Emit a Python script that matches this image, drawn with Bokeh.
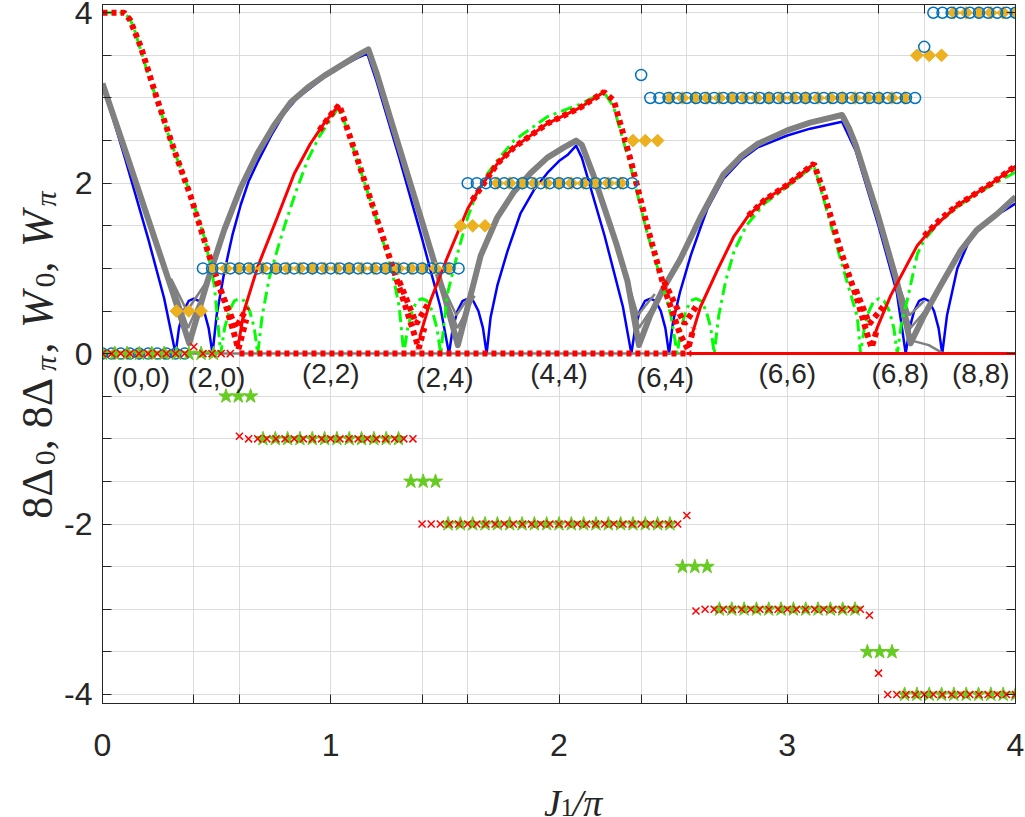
import math
from bokeh.plotting import figure
from bokeh.layouts import row, column
from bokeh.models import Range1d, FixedTicker, LinearAxis, ColumnDataSource
from bokeh.core.properties import value
from bokeh.embed import file_html
from bokeh.resources import INLINE

# ---------------- data ----------------
x_major = [0, 1, 2, 3, 4]
x_minor = [0.4, 0.6, 1.4, 1.6, 2.36, 2.56, 3.4, 3.6]
y_major = [-4, -2, 0, 2, 4]
y_minor = [-3.5, -3, -2.5, -1.5, -1, -0.5, 0.5, 1, 1.5, 2.5, 3, 3.5]
y_tick_text = {-4: "-4", -2: "-2", 0: "0", 2: "2", 4: "4"}

blue_j = [0.0, 0.1, 0.2, 0.27, 0.32,
          0.335, 0.355, 0.378, 0.4, 0.422, 0.445, 0.465, 0.482,
          0.5, 0.533, 0.57, 0.606, 0.64, 0.68, 0.737, 0.796, 0.854, 0.97, 1.04, 1.117, 1.16,
          1.2, 1.3, 1.4, 1.48, 1.518,
          1.535, 1.555, 1.578, 1.601, 1.624, 1.647, 1.667, 1.683,
          1.7, 1.73, 1.774, 1.832, 1.89, 1.949, 2.0, 2.037, 2.075,
          2.1, 2.2, 2.28, 2.317,
          2.334, 2.354, 2.377, 2.4, 2.423, 2.446, 2.466, 2.482,
          2.5, 2.53, 2.577, 2.62, 2.65, 2.72, 2.8, 2.87, 3.0, 3.1, 3.24,
          3.3, 3.4, 3.48, 3.519,
          3.536, 3.556, 3.578, 3.599, 3.62, 3.643, 3.663, 3.679,
          3.7, 3.745, 3.79, 3.818, 3.891, 4.0]
blue_w = [3.17, 2.28, 1.35, 0.65, 0.0,
          0.3, 0.5, 0.62, 0.645, 0.62, 0.5, 0.3, 0.0,
          0.45, 0.95, 1.4, 1.75, 2.02, 2.25, 2.55, 2.82, 3.0, 3.24, 3.36, 3.47, 3.52,
          3.2, 2.3, 1.35, 0.55, 0.0,
          0.3, 0.5, 0.62, 0.645, 0.62, 0.5, 0.3, 0.0,
          0.42, 0.8, 1.2, 1.65, 1.92, 2.12, 2.26, 2.33, 2.44,
          2.3, 1.38, 0.55, 0.0,
          0.3, 0.5, 0.62, 0.645, 0.62, 0.5, 0.3, 0.0,
          0.38, 0.72, 1.15, 1.48, 1.7, 2.05, 2.28, 2.42, 2.56, 2.64, 2.72,
          2.38, 1.5, 0.72, 0.0,
          0.3, 0.5, 0.62, 0.645, 0.62, 0.5, 0.3, 0.0,
          0.45, 1.0, 1.28, 1.4, 1.58, 1.76]

gray_j = [0.0, 0.1, 0.2, 0.3, 0.38,
          0.46, 0.533, 0.606, 0.679, 0.752, 0.825, 0.898, 0.971, 1.044, 1.117, 1.165,
          1.2, 1.3, 1.4, 1.5, 1.557,
          1.6, 1.657, 1.73, 1.803, 1.876, 1.949, 2.022, 2.075,
          2.1, 2.15, 2.2, 2.25, 2.3, 2.35,
          2.4, 2.46, 2.53, 2.62, 2.72, 2.8, 2.87, 3.0, 3.1, 3.24,
          3.27, 3.3, 3.4, 3.48, 3.54,
          3.6, 3.672, 3.76, 3.83, 3.92, 4.0]
gray_w = [3.17, 2.38, 1.58, 0.78, 0.12,
          0.85, 1.45, 1.95, 2.35, 2.68, 2.95, 3.12, 3.26, 3.38, 3.5, 3.57,
          3.3, 2.42, 1.55, 0.66, 0.1,
          0.55, 1.15, 1.6, 1.9, 2.12, 2.3, 2.42, 2.5,
          2.45, 2.1, 1.7, 1.3, 0.85, 0.1,
          0.45, 0.78, 1.1, 1.6, 2.1, 2.32, 2.46, 2.62, 2.71, 2.8,
          2.65, 2.45, 1.6, 0.85, 0.12,
          0.45, 0.8, 1.21, 1.45, 1.64, 1.84]
gray_fan_j = [[0.3, 0.37, 0.45], [0.31, 0.375, 0.45], [1.49, 1.55, 1.62], [1.49, 1.555, 1.63],
              [2.29, 2.345, 2.42], [2.3, 2.35, 2.43], [3.47, 3.535, 3.6], [3.48, 3.54, 3.62],
              [3.55, 3.62, 3.685], [0.36, 4.0]]
gray_fan_w = [[0.88, 0.5, 0.82], [0.8, 0.3, 0.76], [0.8, 0.45, 0.72], [0.76, 0.3, 0.68],
              [0.95, 0.45, 0.7], [0.88, 0.3, 0.62], [0.95, 0.45, 0.62], [0.85, 0.3, 0.55],
              [0.15, 0.1, 0.0], [0.0, 0.0]]

green_j = [0.0, 0.095, 0.12, 0.14, 0.2, 0.3, 0.387, 0.45, 0.49, 0.518,
           0.535, 0.555, 0.578, 0.6, 0.622, 0.645, 0.665, 0.68,
           0.7, 0.73, 0.766, 0.8, 0.85, 0.9, 0.95, 1.0, 1.037,
           1.1, 1.2, 1.27, 1.3, 1.32,
           1.337, 1.357, 1.378, 1.4, 1.422, 1.445, 1.465, 1.482,
           1.511, 1.555, 1.6, 1.657, 1.73, 1.803, 1.949, 2.095, 2.197,
           2.24, 2.314, 2.387, 2.45, 2.49, 2.518,
           2.535, 2.555, 2.578, 2.6, 2.622, 2.645, 2.665, 2.68,
           2.7, 2.73, 2.767, 2.82, 2.9, 3.0, 3.117,
           3.161, 3.234, 3.307, 3.321,
           3.338, 3.358, 3.38, 3.402, 3.424, 3.447, 3.467, 3.482,
           3.5, 3.526, 3.57, 3.599, 3.672, 3.745, 3.818, 3.891, 4.0]
green_w = [4.0, 4.0, 3.93, 3.8, 3.28, 2.48, 1.86, 1.33, 0.8, 0.0,
           0.3, 0.5, 0.62, 0.645, 0.62, 0.5, 0.3, 0.0,
           0.45, 0.88, 1.22, 1.52, 1.92, 2.28, 2.55, 2.75, 2.9,
           2.4, 1.58, 0.95, 0.55, 0.0,
           0.3, 0.5, 0.62, 0.645, 0.62, 0.5, 0.3, 0.0,
           0.7, 1.17, 1.6, 2.0, 2.27, 2.5, 2.78, 2.93, 3.07,
           2.89, 2.19, 1.41, 0.85, 0.45, 0.0,
           0.3, 0.5, 0.62, 0.645, 0.62, 0.5, 0.3, 0.0,
           0.45, 0.85, 1.2, 1.5, 1.76, 1.96, 2.21,
           1.8, 1.1, 0.43, 0.0,
           0.3, 0.5, 0.62, 0.645, 0.62, 0.5, 0.3, 0.0,
           0.35, 0.63, 1.17, 1.33, 1.56, 1.72, 1.86, 1.97, 2.13]

red_dot_j = [[0.0, 0.095, 0.12, 0.168, 0.241, 0.314, 0.387, 0.46, 0.533, 0.577, 0.595, 0.63],
             [0.5, 0.585, 0.635],
             [0.95, 1.0, 1.037, 1.1, 1.2, 1.3, 1.36, 1.385, 1.41],
             [1.3, 1.375, 1.43],
             [1.62, 1.73, 1.803, 1.949, 2.095, 2.197, 2.24, 2.314, 2.387, 2.46, 2.53, 2.565, 2.59],
             [2.46, 2.55, 2.6],
             [2.83, 2.9, 3.0, 3.117, 3.161, 3.234, 3.307, 3.35, 3.37, 3.395],
             [3.3, 3.36, 3.42],
             [3.6, 3.672, 3.745, 3.891, 4.0],
             [0.6, 2.58]]
red_dot_w = [[4.0, 4.0, 3.92, 3.6, 2.97, 2.39, 1.84, 1.21, 0.63, 0.23, 0.05, 0.4],
             [0.85, 0.3, 0.55],
             [2.62, 2.8, 2.92, 2.42, 1.6, 0.78, 0.28, 0.06, 0.3],
             [0.85, 0.35, 0.6],
             [1.8, 2.23, 2.42, 2.7, 2.89, 3.07, 2.97, 2.27, 1.49, 0.78, 0.23, 0.05, 0.3],
             [0.85, 0.35, 0.55],
             [1.62, 1.8, 1.98, 2.23, 1.88, 1.21, 0.63, 0.23, 0.07, 0.3],
             [0.75, 0.35, 0.55],
             [1.38, 1.58, 1.74, 1.99, 2.2],
             [0.0, 0.0]]

red_sol_j = [[0.595, 0.62, 0.68, 0.766, 0.84, 0.91, 0.97, 1.037],
             [1.39, 1.438, 1.511, 1.6, 1.657, 1.73, 1.803, 1.949, 2.095, 2.197],
             [2.58, 2.62, 2.694, 2.767, 2.83, 2.9, 3.0, 3.117],
             [3.38, 3.395, 3.453, 3.526, 3.57, 3.628, 3.745, 3.891, 4.0],
             [2.56, 4.0]]
red_sol_w = [[0.1, 0.5, 1.02, 1.6, 2.11, 2.46, 2.7, 2.92],
             [0.2, 0.63, 1.13, 1.7, 1.96, 2.23, 2.42, 2.7, 2.89, 3.07],
             [0.2, 0.55, 0.98, 1.38, 1.62, 1.8, 1.98, 2.23],
             [0.2, 0.31, 0.68, 1.05, 1.27, 1.45, 1.74, 1.99, 2.2],
             [0.0, 0.0]]

# sampling grid of the circle / cross markers
grid_a = [0.00, 0.04, 0.08, 0.12, 0.16, 0.20, 0.24, 0.28, 0.32, 0.36,
          0.40, 0.44, 0.48, 0.52, 0.56, 0.60, 0.64, 0.68, 0.72, 0.76,
          0.80, 0.84, 0.88, 0.92, 0.96, 1.00, 1.04, 1.08, 1.12, 1.16,
          1.20, 1.24, 1.28, 1.32, 1.36, 1.40, 1.44, 1.48, 1.52, 1.56,
          1.60, 1.64, 1.68, 1.72, 1.76, 1.80, 1.84, 1.88, 1.92, 1.96,
          2.00, 2.04, 2.08, 2.12, 2.16, 2.20, 2.24, 2.28, 2.32, 2.36,
          2.40, 2.44, 2.48, 2.52, 2.56, 2.60, 2.64, 2.68, 2.72, 2.76,
          2.80, 2.84, 2.88, 2.92, 2.96, 3.00, 3.04, 3.08, 3.12, 3.16,
          3.20, 3.24, 3.28, 3.32, 3.36, 3.40, 3.44, 3.48, 3.52, 3.56,
          3.60, 3.64, 3.68, 3.72, 3.76, 3.80, 3.84, 3.88, 3.92, 3.96,
          4.00]
NaN = float("nan")
circ_w = [0, 0, 0, 0, 0, 0, 0, 0, 0, 0,
          NaN, 1, 1, 1, 1, 1, 1, 1, 1, 1,
          1, 1, 1, 1, 1, 1, 1, 1, 1, 1,
          1, 1, 1, 1, 1, 1, 1, 1, 1, 1,
          2, 2, 2, 2, 2, 2, 2, 2, 2, 2,
          2, 2, 2, 2, 2, 2, 2, 2, 2, 3.27,
          3, 3, 3, 3, 3, 3, 3, 3, 3, 3,
          3, 3, 3, 3, 3, 3, 3, 3, 3, 3,
          3, 3, 3, 3, 3, 3, 3, 3, 3, 3,
          3.6, 4, 4, 4, 4, 4, 4, 4, 4, 4,
          4]
cross_w = [0, 0, 0, 0, 0, 0, 0, 0, 0, 0,
           0.08, 0, 0, 0, 0, -0.97, -1, -1, -1, -1,
           -1, -1, -1, -1, -1, -1, -1, -1, -1, -1,
           -1, -1, -1, -1, -1, -2, -2, -2, -2, -2,
           -2, -2, -2, -2, -2, -2, -2, -2, -2, -2,
           -2, -2, -2, -2, -2, -2, -2, -2, -2, -2,
           -2, -2, -2, -2, -1.9, -3.02, -3, -3, -3, -3,
           -3, -3, -3, -3, -3, -3, -3, -3, -3, -3,
           -3, -3, -3, -3, -3.07, -3.75, -4, -4, -4, -4,
           -4, -4, -4, -4, -4, -4, -4, -4, -4, -4,
           -4]

# sampling grid of the diamond / star markers
grid_b = [0.000, 0.054, 0.108, 0.162, 0.216, 0.270, 0.324, 0.378, 0.432, 0.486,
          0.541, 0.595, 0.649, 0.703, 0.757, 0.811, 0.865, 0.919, 0.973, 1.027,
          1.081, 1.135, 1.189, 1.243, 1.297, 1.351, 1.405, 1.459, 1.514, 1.568,
          1.622, 1.676, 1.730, 1.784, 1.838, 1.892, 1.946, 2.000, 2.054, 2.108,
          2.162, 2.216, 2.270, 2.324, 2.378, 2.432, 2.486, 2.541, 2.595, 2.649,
          2.703, 2.757, 2.811, 2.865, 2.919, 2.973, 3.027, 3.081, 3.135, 3.189,
          3.243, 3.297, 3.351, 3.405, 3.459, 3.514, 3.568, 3.622, 3.676, 3.730,
          3.784, 3.838, 3.892, 3.946, 4.000]
diam_w = [0, 0, 0, 0, 0, 0, 0.5, 0.5, 0.5, 1,
          1, 1, 1, 1, 1, 1, 1, 1, 1, 1,
          1, 1, 1, 1, 1, 1, 1, 1, 1, 1.5,
          1.5, 1.5, 2, 2, 2, 2, 2, 2, 2, 2,
          2, 2, 2, 2.5, 2.5, 2.5, 3, 3, 3, 3,
          3, 3, 3, 3, 3, 3, 3, 3, 3, 3,
          3, 3, 3, 3, 3, 3, 3.5, 3.5, 3.5, 4,
          4, 4, 4, 4, 4]
star_w = [0, 0, 0, 0, 0, 0, 0, 0, 0, 0,
          -0.5, -0.5, -0.5, -1, -1, -1, -1, -1, -1, -1,
          -1, -1, -1, -1, -1, -1.5, -1.5, -1.5, -2, -2,
          -2, -2, -2, -2, -2, -2, -2, -2, -2, -2,
          -2, -2, -2, -2, -2, -2, -2, -2.5, -2.5, -2.5,
          -3, -3, -3, -3, -3, -3, -3, -3, -3, -3,
          -3, -3, -3.5, -3.5, -3.5, -4, -4, -4, -4, -4,
          -4, -4, -4, -4, -4]

region_text = ["(0,0)", "(2,0)", "(2,2)", "(2,4)", "(4,4)", "(6,4)", "(6,6)", "(6,8)", "(8,8)"]
region_j = [0.17, 0.5, 1.0, 1.5, 2.0, 2.466, 3.0, 3.495, 3.848]
region_w = [-0.28, -0.28, -0.238, -0.28, -0.238, -0.28, -0.238, -0.238, -0.238]

# axis titles, split into main-size and subscript pieces: (text, is_subscript, style)
ylabel_parts = [("8Δ", False, "normal"), ("0", True, "normal"), (", 8Δ", False, "normal"),
                ("π", True, "italic"), (", ", False, "normal"), ("W", False, "italic"),
                ("0", True, "normal"), (", ", False, "normal"), ("W", False, "italic"),
                ("π", True, "italic")]
xlabel_parts = [("J", False, "italic"), ("1", True, "normal"), ("/π", False, "italic")]

# ---------------- layout ----------------
W, H = 1025, 817
LW = 60          # strip on the left that carries the y title
XH = 44          # strip at the bottom that carries the x title
FL, FR, FT, FB = 102, 10, 4, 114
X0, X1 = 0.0, 4.0
Y0, Y1 = -4.106, 4.097
INK = "#262626"
GRID = "#dcdcdc"

p = figure(width=W - LW, height=H - XH, output_backend="svg", toolbar_location=None,
           x_range=Range1d(X0, X1), y_range=Range1d(Y0, Y1),
           min_border_left=FL - LW, min_border_right=FR, min_border_top=FT,
           min_border_bottom=FB - XH,
           background_fill_color="white", border_fill_color="white")
p.outline_line_color = INK
p.outline_line_width = 1

xt = FixedTicker(ticks=x_major, minor_ticks=x_minor)
yt = FixedTicker(ticks=y_major, minor_ticks=y_minor)
bx = p.below[0]
ly = p.left[0]
bx.ticker = xt
ly.ticker = yt
ly.major_label_overrides = y_tick_text
for g, t in ((p.xgrid[0], xt), (p.ygrid[0], yt)):
    g.ticker = t
    g.grid_line_color = GRID
    g.minor_grid_line_color = GRID
    g.grid_line_width = 1
    g.minor_grid_line_width = 1

# box sides with inward ticks only (all as minor ticks, so no labels)
ry = LinearAxis(ticker=FixedTicker(ticks=[], minor_ticks=y_major + y_minor))
ax_top = LinearAxis(ticker=FixedTicker(ticks=[], minor_ticks=x_major + x_minor))
p.add_layout(ry, "right")
p.add_layout(ax_top, "above")

for ax in (bx, ly, ry, ax_top):
    ax.axis_line_color = INK
    ax.axis_line_width = 1
    ax.major_tick_in = 9
    ax.major_tick_out = 0
    ax.minor_tick_in = 9
    ax.minor_tick_out = 0
    ax.major_tick_line_color = INK
    ax.minor_tick_line_color = INK
for ax in (bx, ly):
    ax.major_label_text_font = "Liberation Sans"
    ax.major_label_text_font_size = "32px"
    ax.major_label_text_color = INK
bx.major_label_standoff = 30
ly.major_label_standoff = 10

# ---------------- curves ----------------
p.line(blue_j, blue_w, line_color="#0000FF", line_width=2.5, line_join="round")
p.line(gray_j, gray_w, line_color="#808080", line_width=6, line_join="round")
p.multi_line(gray_fan_j, gray_fan_w, line_color="#808080", line_width=2.5)
p.line(green_j, green_w, line_color="#00FF00", line_width=3, line_dash="12 5 3 5")
p.multi_line(red_dot_j, red_dot_w, line_color="#FF0000", line_width=6, line_dash="5 4")
p.multi_line(red_sol_j, red_sol_w, line_color="#FF0000", line_width=3, line_join="round")

# ---------------- markers ----------------
p.scatter(grid_b, diam_w, marker="square", angle=math.pi / 4, size=9,
          fill_color="#EDB120", line_color="#EDB120", line_width=1)
p.scatter(grid_a, circ_w, marker="circle", size=11, fill_color=None,
          line_color="#0072BD", line_width=1.5)
p.scatter(grid_b, star_w, marker="star", size=15, fill_color="#66CC22",
          line_color="#66CC22", line_width=1)
p.scatter(grid_a, cross_w, marker="x", size=10, line_color="#FF0000", line_width=1.5)

# ---------------- region labels ----------------
src = ColumnDataSource(dict(x=region_j, y=region_w, t=region_text))
p.text(x="x", y="y", text="t", source=src, text_font=value("Liberation Sans"),
       text_font_size="28px", text_color=INK, text_align="center", text_baseline="alphabetic")

# ---------------- title strips (real text glyphs) ----------------
# advance widths (em) used to space the pieces, roughly like the TeX rendering
EM = {"8": 0.5, "Δ": 0.72, ",": 0.28, " ": 0.3, "W": 0.92, "0": 0.5, "π": 0.58,
      "J": 0.46, "1": 0.5, "/": 0.3}


def width(s, size):
    return sum(EM.get(c, 0.5) for c in s) * size


def strip(w, h):
    f = figure(width=w, height=h, output_backend="svg", toolbar_location=None,
               x_range=Range1d(0, w), y_range=Range1d(0, h),
               x_axis_location=None, y_axis_location=None, min_border=0,
               background_fill_color="white", border_fill_color="white")
    f.outline_line_color = None
    f.xgrid.visible = False
    f.ygrid.visible = False
    return f


yfig = strip(LW, H)
MAIN, SUB = 44, 30
total = sum(width(t, SUB if s else MAIN) for t, s, _ in ylabel_parts)
pos = 353.5 + total / 2          # page y of the start (bottom) of the title
for t, s, st in ylabel_parts:
    size = SUB if s else MAIN
    base_x = 45 if s else 37
    yfig.text(x=[base_x], y=[H - pos], text=[t], angle=math.pi / 2,
              text_font=value("Liberation Serif"), text_font_size=f"{size}px",
              text_font_style=st, text_color=INK, text_align="left",
              text_baseline="alphabetic")
    pos -= width(t, size)

xfig = strip(W - LW, XH)
XM, XS = 38, 26
total = sum(width(t, XS if s else XM) for t, s, _ in xlabel_parts)
frame_mid = (FL - LW) + (W - FL - FR) / 2
cx = frame_mid - total / 2
for t, s, st in xlabel_parts:
    size = XS if s else XM
    page_base = 807 if s else 802
    xfig.text(x=[cx], y=[H - page_base], text=[t],
              text_font=value("Liberation Serif"), text_font_size=f"{size}px",
              text_font_style=st, text_color=INK, text_align="left",
              text_baseline="alphabetic")
    cx += width(t, size)

layout = row(yfig, column(p, xfig))
open("out.html", "w").write(file_html(layout, INLINE))
